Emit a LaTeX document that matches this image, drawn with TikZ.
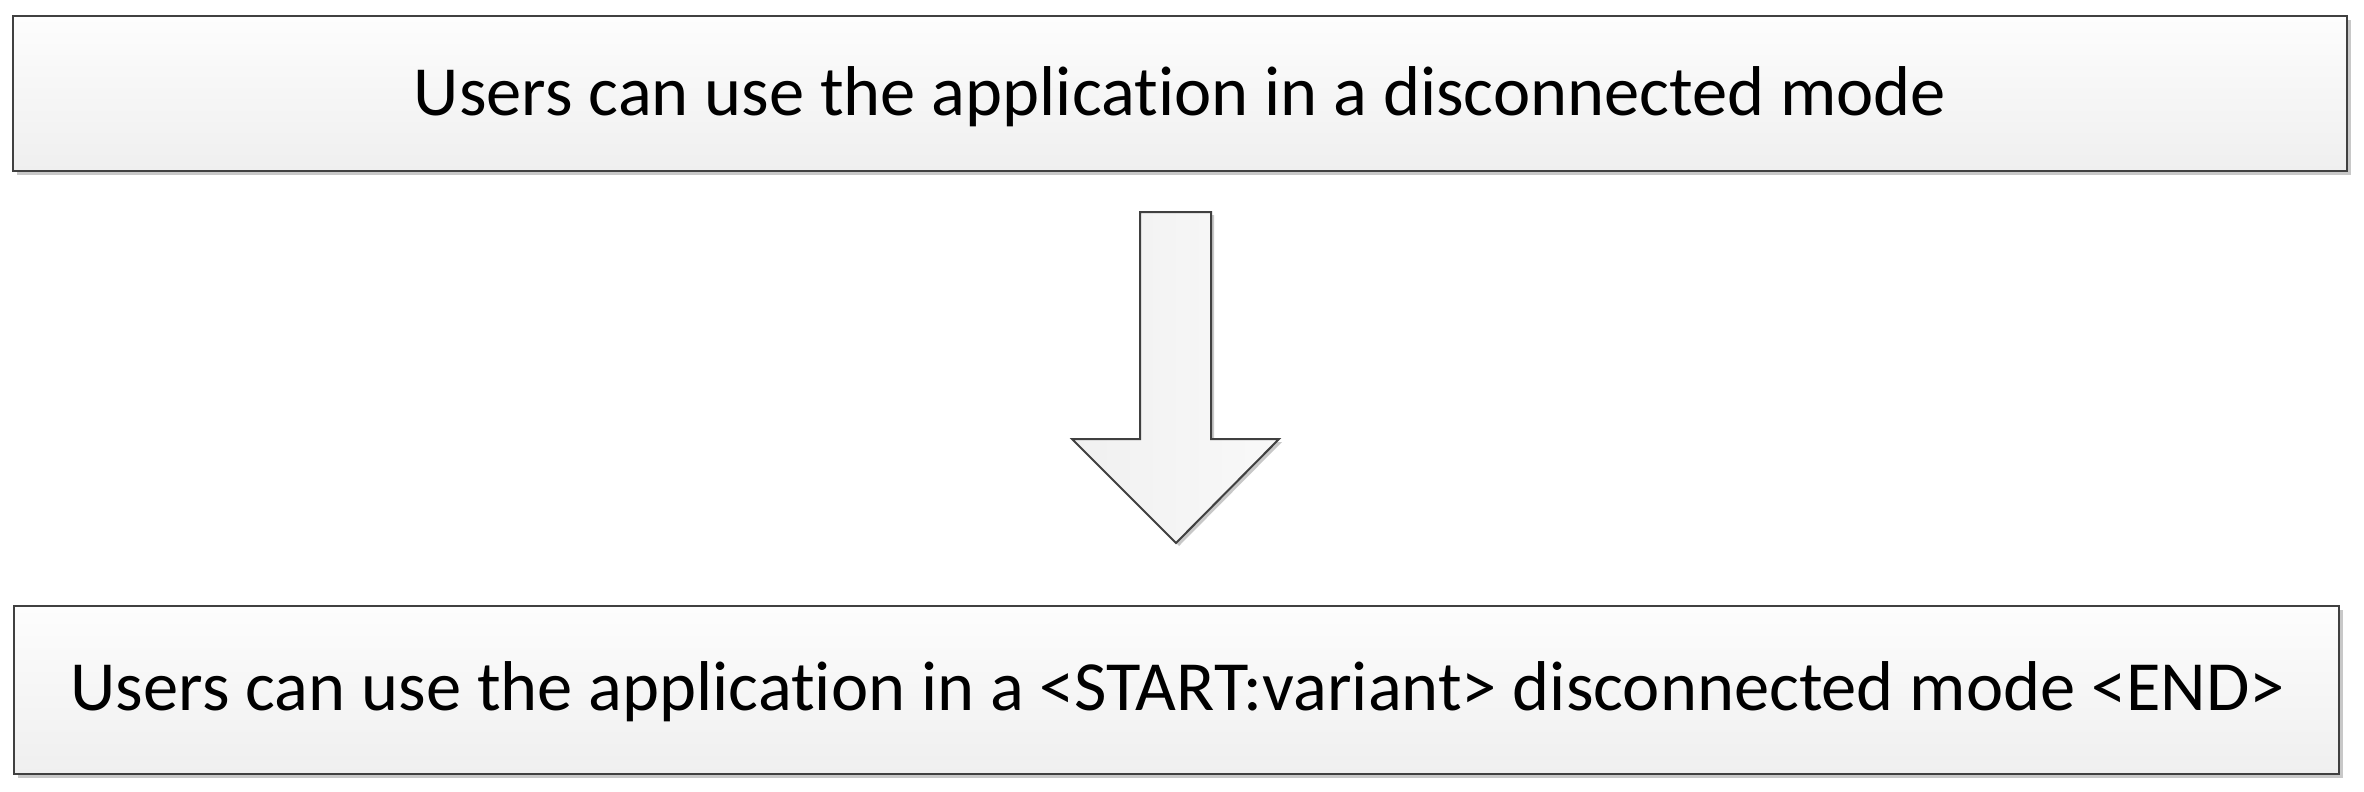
\documentclass[tikz,border=0pt]{standalone}
\usepackage{fontspec}
\setmainfont[Ligatures={NoCommon}]{Carlito}
\definecolor{edgec}{HTML}{404040}
\definecolor{topc}{HTML}{FDFDFD}
\definecolor{botc}{HTML}{EFEFEF}
\definecolor{shadc}{HTML}{C8C8C8}
\definecolor{arrl}{HTML}{F0F0F0}
\definecolor{arrr}{HTML}{F9F9F9}
\begin{document}
\begin{tikzpicture}[x=1pt,y=-1pt,
  boxstyle/.style={draw=edgec, line width=2pt, top color=topc, bottom color=botc},
  shadstyle/.style={fill=shadc, draw=none},
  txt/.style={font=\fontsize{70.5}{84}\selectfont, text=black, inner sep=0pt, anchor=base},
  arrstyle/.style={draw=edgec, line width=2pt, left color=arrl, right color=arrr, line join=miter}]
\useasboundingbox (0,0) rectangle (2364,792);
% top box
\fill[shadstyle] (17,20) rectangle (2351,175);
\path[boxstyle] (13,16) rectangle (2347,171);
\node[txt] (top) at (1180,115) {Users can use the application in a disconnected mode};
% arrow
\coordinate (atop) at (1176,212);
\coordinate (atip) at (1176,543);
\fill[shadc] (1143,215) -- (1214,215) -- (1214,442) -- (1282,442) -- (1179,546) -- (1075,442) -- (1143,442) -- cycle;
\path[arrstyle] (1140,212) -- (1211,212) -- (1211,439) -- (1279,439) -- (atip) -- (1072,439) -- (1140,439) -- cycle;
% bottom box
\fill[shadstyle] (18,610) rectangle (2343,778);
\path[boxstyle] (14,606) rectangle (2339,774);
\node[txt] (bot) at (1178,710) {Users can use the application in a <START:variant> disconnected mode <END>};
\end{tikzpicture}
\end{document}
